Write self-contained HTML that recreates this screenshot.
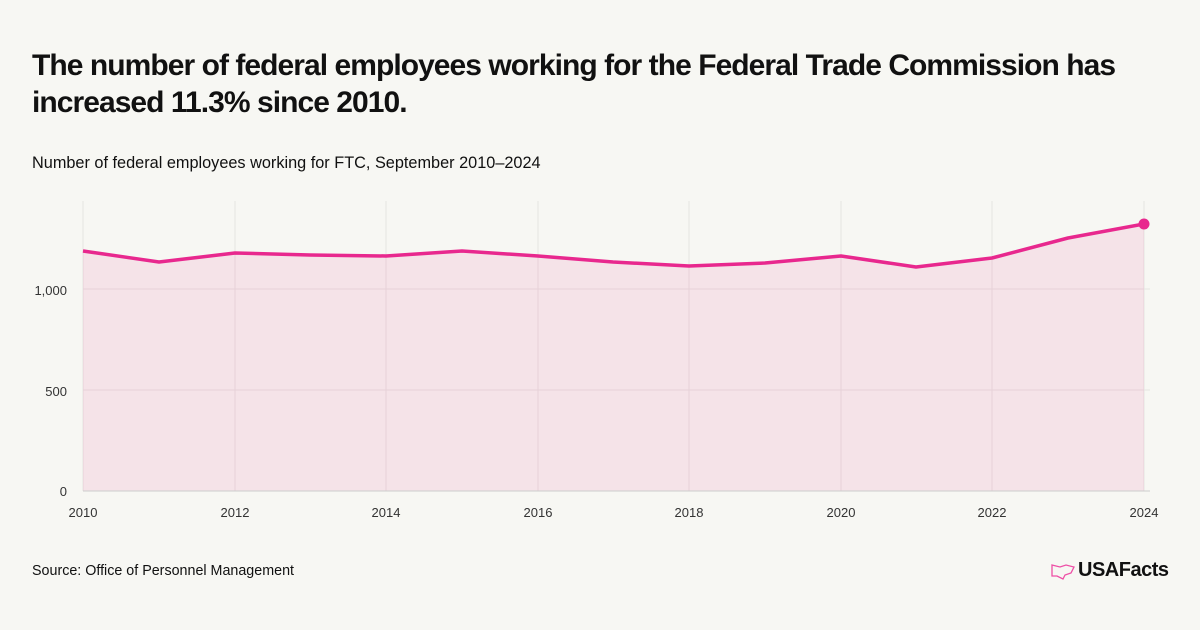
<!DOCTYPE html>
<html><head><meta charset="utf-8"><style>
body{margin:0;width:1200px;height:630px;background:#f7f7f3;font-family:"Liberation Sans",sans-serif;color:#111;overflow:hidden;position:relative}
h1{position:absolute;left:32px;top:47px;margin:0;font-size:30px;font-weight:700;line-height:37px;letter-spacing:-0.95px}
.sub{position:absolute;left:32px;top:154px;font-size:16.3px}
.src{position:absolute;left:32px;top:563px;font-size:14.3px}
.logo{position:absolute;left:1078px;top:559px;font-size:20px;font-weight:700;letter-spacing:-0.5px}
</style></head><body>
<h1>The number of federal employees working for the Federal Trade Commission has<br>increased 11.3% since 2010.</h1>
<div class="sub">Number of federal employees working for FTC, September 2010–2024</div>
<svg width="1200" height="630" style="position:absolute;left:0;top:0">
<g stroke="#e6e4e2" stroke-width="1">
<line x1="83" y1="289" x2="1150" y2="289"/><line x1="83" y1="390" x2="1150" y2="390"/>
<line x1="83" y1="201" x2="83" y2="491"/><line x1="235" y1="201" x2="235" y2="491"/><line x1="386" y1="201" x2="386" y2="491"/><line x1="538" y1="201" x2="538" y2="491"/><line x1="689" y1="201" x2="689" y2="491"/><line x1="841" y1="201" x2="841" y2="491"/><line x1="992" y1="201" x2="992" y2="491"/><line x1="1144" y1="201" x2="1144" y2="491"/>
</g>
<polygon fill="#e8207e" fill-opacity="0.09" points="83,491 83,251 159,262 235,253 310,255 386,256 462,251 538,256 613,262 689,266 765,263 841,256 916,267 992,258 1068,238 1144,224 1144,491"/>
<line x1="83" y1="491" x2="1150" y2="491" stroke="#ccc"/>
<polyline fill="none" stroke="#e8288e" stroke-width="3.5" stroke-linejoin="round" points="83,251 159,262 235,253 310,255 386,256 462,251 538,256 613,262 689,266 765,263 841,256 916,267 992,258 1068,238 1144,224"/>
<circle cx="1144" cy="224" r="5.5" fill="#e8288e"/>
<g font-size="13" fill="#333" text-anchor="end" font-family="Liberation Sans">
<text x="67" y="295">1,000</text><text x="67" y="396">500</text><text x="67" y="496">0</text></g>
<g font-size="13" fill="#333" text-anchor="middle" font-family="Liberation Sans">
<text x="83" y="517">2010</text><text x="235" y="517">2012</text><text x="386" y="517">2014</text><text x="538" y="517">2016</text><text x="689" y="517">2018</text><text x="841" y="517">2020</text><text x="992" y="517">2022</text><text x="1144" y="517">2024</text></g>
<path d="M1052,565 l8,2 l6,-2 l8,2 l-3,6 l-6,2 l-2,4 l-6,-3 l-5,0 z" fill="none" stroke="#ee4fa6" stroke-width="1.3"/>
</svg>
<div class="src">Source: Office of Personnel Management</div>
<div class="logo">USAFacts</div>
</body></html>
